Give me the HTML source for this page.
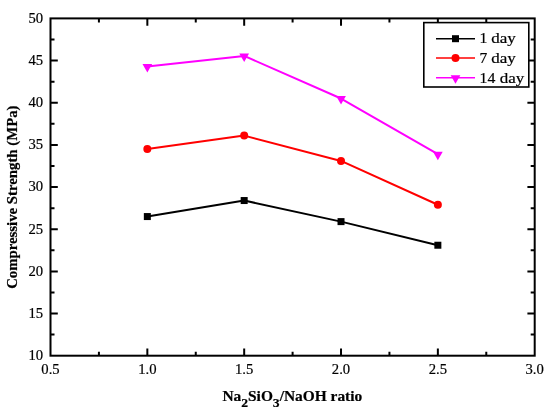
<!DOCTYPE html><html><head><meta charset="utf-8"><style>html,body{margin:0;padding:0;background:#fff;}svg{display:block;}text{font-family:"Liberation Serif","Times New Roman",serif;fill:#000;stroke:#000;stroke-width:0.2px;}</style></head><body>
<svg width="550" height="413" viewBox="0 0 550 413">
<rect x="0" y="0" width="550" height="413" fill="#fff"/>
<path d="M98.92 355.70V351.70M98.92 18.40V22.40M147.34 355.70V348.40M147.34 18.40V25.70M195.76 355.70V351.70M195.76 18.40V22.40M244.18 355.70V348.40M244.18 18.40V25.70M292.60 355.70V351.70M292.60 18.40V22.40M341.02 355.70V348.40M341.02 18.40V25.70M389.44 355.70V351.70M389.44 18.40V22.40M437.86 355.70V348.40M437.86 18.40V25.70M486.28 355.70V351.70M486.28 18.40V22.40M50.50 334.62H54.50M534.70 334.62H530.70M50.50 313.54H57.80M534.70 313.54H527.40M50.50 292.46H54.50M534.70 292.46H530.70M50.50 271.38H57.80M534.70 271.38H527.40M50.50 250.29H54.50M534.70 250.29H530.70M50.50 229.21H57.80M534.70 229.21H527.40M50.50 208.13H54.50M534.70 208.13H530.70M50.50 187.05H57.80M534.70 187.05H527.40M50.50 165.97H54.50M534.70 165.97H530.70M50.50 144.89H57.80M534.70 144.89H527.40M50.50 123.81H54.50M534.70 123.81H530.70M50.50 102.72H57.80M534.70 102.72H527.40M50.50 81.64H54.50M534.70 81.64H530.70M50.50 60.56H57.80M534.70 60.56H527.40M50.50 39.48H54.50M534.70 39.48H530.70" stroke="#000" stroke-width="2" fill="none"/>
<polyline points="147.34,216.56 244.18,200.54 341.02,221.62 437.86,245.23" stroke="#000" stroke-width="2.0" fill="none" stroke-linejoin="round"/>
<polyline points="147.34,149.10 244.18,135.61 341.02,160.91 437.86,204.76" stroke="#ff0000" stroke-width="2.0" fill="none" stroke-linejoin="round"/>
<polyline points="147.34,66.47 244.18,55.92 341.02,98.51 437.86,154.16" stroke="#ff00ff" stroke-width="2.0" fill="none" stroke-linejoin="round"/>
<rect x="143.84" y="213.06" width="7" height="7" fill="#000"/>
<rect x="240.68" y="197.04" width="7" height="7" fill="#000"/>
<rect x="337.52" y="218.12" width="7" height="7" fill="#000"/>
<rect x="434.36" y="241.73" width="7" height="7" fill="#000"/>
<circle cx="147.34" cy="149.10" r="4" fill="#ff0000"/>
<circle cx="244.18" cy="135.61" r="4" fill="#ff0000"/>
<circle cx="341.02" cy="160.91" r="4" fill="#ff0000"/>
<circle cx="437.86" cy="204.76" r="4" fill="#ff0000"/>
<polygon points="142.49,64.07 152.19,64.07 147.34,72.47" fill="#ff00ff"/>
<polygon points="239.33,53.52 249.03,53.52 244.18,61.92" fill="#ff00ff"/>
<polygon points="336.17,96.11 345.87,96.11 341.02,104.51" fill="#ff00ff"/>
<polygon points="433.01,151.76 442.71,151.76 437.86,160.16" fill="#ff00ff"/>
<rect x="50.50" y="18.40" width="484.20" height="337.30" stroke="#000" stroke-width="2.0" fill="none"/>
<rect x="423.8" y="22.6" width="105" height="64.4" stroke="#000" stroke-width="1.6" fill="#fff"/>
<line x1="436" y1="38.7" x2="475" y2="38.7" stroke="#000" stroke-width="1.6"/>
<rect x="452.00" y="35.20" width="7" height="7" fill="#000"/>
<text transform="translate(479.6,43.1) scale(1.06,1)" font-size="14.8">1</text>
<text transform="translate(491.2,43.1) scale(1.15,1)" font-size="14.8">day</text>
<line x1="436" y1="58.0" x2="475" y2="58.0" stroke="#ff0000" stroke-width="1.6"/>
<circle cx="455.50" cy="58.00" r="4" fill="#ff0000"/>
<text transform="translate(479.6,62.9) scale(1.06,1)" font-size="14.8">7</text>
<text transform="translate(491.2,62.9) scale(1.15,1)" font-size="14.8">day</text>
<line x1="436" y1="77.7" x2="475" y2="77.7" stroke="#ff00ff" stroke-width="1.6"/>
<polygon points="450.65,75.30 460.35,75.30 455.50,83.70" fill="#ff00ff"/>
<text transform="translate(479.6,82.7) scale(1.06,1)" font-size="14.8">14</text>
<text transform="translate(499.8,82.7) scale(1.15,1)" font-size="14.8">day</text>
<text x="50.50" y="373.8" font-size="14.67" text-anchor="middle">0.5</text>
<text x="147.34" y="373.8" font-size="14.67" text-anchor="middle">1.0</text>
<text x="244.18" y="373.8" font-size="14.67" text-anchor="middle">1.5</text>
<text x="341.02" y="373.8" font-size="14.67" text-anchor="middle">2.0</text>
<text x="437.86" y="373.8" font-size="14.67" text-anchor="middle">2.5</text>
<text x="534.70" y="373.8" font-size="14.67" text-anchor="middle">3.0</text>
<text x="43.1" y="360.10" font-size="14.67" text-anchor="end">10</text>
<text x="43.1" y="317.94" font-size="14.67" text-anchor="end">15</text>
<text x="43.1" y="275.77" font-size="14.67" text-anchor="end">20</text>
<text x="43.1" y="233.61" font-size="14.67" text-anchor="end">25</text>
<text x="43.1" y="191.45" font-size="14.67" text-anchor="end">30</text>
<text x="43.1" y="149.29" font-size="14.67" text-anchor="end">35</text>
<text x="43.1" y="107.12" font-size="14.67" text-anchor="end">40</text>
<text x="43.1" y="64.96" font-size="14.67" text-anchor="end">45</text>
<text x="43.1" y="22.80" font-size="14.67" text-anchor="end">50</text>
<text transform="translate(292.3,401) scale(1.05,1)" font-size="14.67" font-weight="bold" text-anchor="middle">Na<tspan font-size="13" dy="5.6">2</tspan><tspan dy="-5.6">SiO</tspan><tspan font-size="13" dy="5.6">3</tspan><tspan dy="-5.6">/NaOH ratio</tspan></text>
<text transform="translate(17.3,197.2) rotate(-90) scale(1.008,1)" font-size="14.67" font-weight="bold" text-anchor="middle">Compressive Strength (MPa)</text>
</svg></body></html>
